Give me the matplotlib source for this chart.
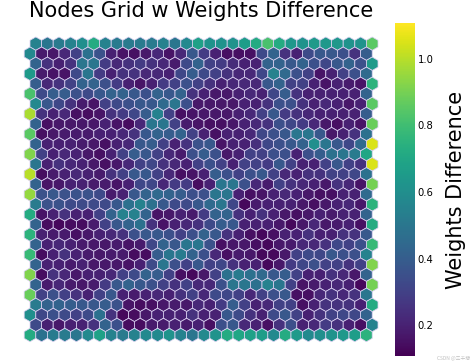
import numpy as np
import matplotlib
matplotlib.use("Agg")
import matplotlib.pyplot as plt
from matplotlib.patches import RegularPolygon
from matplotlib.colors import Normalize
from matplotlib.cm import ScalarMappable

title = "Nodes Grid w Weights Difference"
cbar_label = "Weights Difference"
cbar_ticks = [0.2, 0.4, 0.6, 0.8, 1.0]
vmin, vmax = 0.107, 1.108

# rows from the top of the grid to the bottom; 30 values each
r00 = [.55,.50,.52,.55,.60,.72,.55,.52,.52,.52,.52,.55,.50,.58,.68,.62,.62,.62,.66,.72,.82,.72,.64,.62,.65,.64,.64,.62,.62,.85]
r01 = [.58,.18,.17,.22,.30,.48,.36,.20,.16,.15,.17,.22,.16,.22,.38,.28,.20,.15,.15,.15,.33,.42,.25,.20,.33,.38,.38,.35,.25,.40]
r02 = [.42,.25,.20,.25,.50,.50,.28,.22,.25,.28,.25,.22,.18,.33,.42,.30,.28,.23,.20,.20,.42,.42,.38,.42,.35,.32,.38,.42,.35,.65]
r03 = [.65,.18,.16,.16,.33,.50,.28,.20,.25,.25,.22,.22,.20,.32,.40,.33,.30,.25,.22,.22,.32,.55,.45,.35,.30,.16,.20,.30,.35,.45]
r04 = [.40,.22,.25,.30,.42,.42,.35,.28,.20,.16,.20,.28,.30,.35,.30,.25,.20,.22,.22,.22,.38,.42,.30,.30,.20,.16,.20,.18,.16,.75]
r05 = [.82,.33,.40,.40,.35,.33,.38,.42,.42,.38,.35,.42,.38,.42,.25,.20,.17,.17,.20,.22,.20,.32,.40,.25,.20,.20,.20,.20,.20,.42]
r06 = [.58,.38,.32,.25,.18,.16,.30,.33,.35,.38,.38,.45,.50,.35,.17,.17,.17,.17,.20,.20,.25,.35,.35,.25,.20,.22,.20,.17,.20,.85]
r07 = [.98,.25,.20,.22,.15,.14,.16,.25,.28,.32,.40,.55,.30,.15,.16,.17,.17,.17,.20,.22,.30,.38,.28,.25,.22,.20,.20,.20,.20,.40]
r08 = [.42,.15,.17,.17,.17,.17,.20,.16,.14,.22,.50,.50,.30,.18,.16,.15,.15,.17,.20,.22,.25,.35,.32,.28,.22,.17,.15,.20,.16,.88]
r09 = [.85,.15,.17,.18,.18,.18,.20,.20,.22,.25,.38,.42,.40,.42,.30,.20,.15,.20,.20,.22,.32,.35,.38,.50,.50,.38,.17,.20,.25,.48]
r10 = [.42,.20,.20,.20,.18,.17,.15,.20,.22,.38,.40,.30,.20,.25,.36,.38,.16,.20,.20,.24,.32,.35,.38,.42,.60,.50,.38,.32,.45,1.05]
r11 = [.92,.30,.20,.22,.20,.17,.15,.20,.30,.40,.38,.30,.22,.18,.35,.40,.35,.17,.20,.30,.30,.35,.35,.20,.35,.40,.48,.50,.52,.70]
r12 = [.50,.20,.25,.22,.20,.17,.15,.17,.22,.30,.32,.25,.22,.20,.30,.35,.30,.20,.30,.30,.28,.38,.30,.20,.20,.30,.38,.30,.25,1.05]
r13 = [1.00,.14,.18,.20,.22,.20,.18,.25,.30,.38,.38,.30,.22,.15,.16,.20,.40,.35,.30,.35,.38,.30,.22,.20,.25,.25,.30,.30,.32,.48]
r14 = [.42,.16,.17,.20,.20,.18,.18,.16,.20,.32,.32,.22,.28,.28,.14,.20,.50,.50,.35,.22,.18,.30,.25,.22,.20,.17,.25,.22,.16,.90]
r15 = [.95,.36,.38,.36,.36,.36,.33,.18,.20,.38,.42,.45,.42,.40,.35,.35,.50,.50,.20,.15,.16,.20,.22,.20,.17,.15,.15,.20,.20,.45]
r16 = [.52,.36,.36,.33,.33,.33,.33,.38,.48,.55,.48,.38,.33,.33,.38,.45,.50,.32,.13,.18,.20,.20,.20,.17,.15,.17,.20,.22,.17,.75]
r17 = [.72,.16,.20,.25,.20,.20,.30,.42,.55,.55,.42,.16,.17,.20,.18,.28,.42,.42,.25,.20,.25,.20,.17,.15,.17,.20,.18,.20,.20,.42]
r18 = [.42,.14,.13,.14,.14,.18,.30,.38,.42,.48,.25,.16,.20,.22,.25,.33,.40,.38,.20,.20,.20,.17,.13,.17,.22,.17,.18,.20,.15,.72]
r19 = [.75,.20,.18,.18,.15,.17,.20,.22,.25,.35,.38,.38,.35,.30,.35,.42,.38,.25,.20,.15,.13,.15,.20,.20,.25,.20,.20,.25,.25,.38]
r20 = [.42,.20,.22,.20,.18,.17,.17,.18,.16,.18,.32,.42,.38,.50,.50,.36,.15,.17,.17,.15,.13,.17,.18,.22,.22,.25,.32,.30,.35,.78]
r21 = [.78,.14,.20,.25,.20,.18,.17,.18,.18,.14,.14,.40,.50,.52,.42,.35,.22,.15,.18,.17,.13,.13,.17,.30,.33,.32,.38,.35,.35,.55]
r22 = [.42,.20,.20,.18,.20,.17,.17,.17,.16,.20,.33,.50,.35,.30,.38,.30,.32,.25,.20,.20,.13,.17,.28,.32,.35,.30,.30,.25,.30,.92]
r23 = [.92,.14,.25,.22,.17,.20,.20,.22,.30,.33,.42,.40,.30,.15,.13,.17,.30,.48,.52,.48,.45,.38,.40,.30,.20,.20,.25,.22,.17,.42]
r24 = [.42,.18,.22,.18,.17,.18,.28,.38,.42,.38,.35,.30,.25,.30,.22,.22,.35,.50,.50,.48,.55,.50,.30,.16,.18,.20,.22,.20,.13,.90]
r25 = [.88,.30,.35,.30,.25,.20,.30,.38,.20,.18,.20,.22,.20,.25,.30,.22,.33,.32,.30,.22,.30,.35,.38,.15,.15,.22,.25,.22,.25,.50]
r26 = [.52,.42,.42,.40,.38,.38,.40,.36,.16,.14,.15,.17,.18,.17,.22,.20,.28,.40,.30,.20,.22,.30,.30,.15,.20,.25,.25,.25,.20,.72]
r27 = [.60,.32,.35,.33,.30,.33,.48,.25,.13,.14,.17,.20,.20,.20,.25,.20,.20,.38,.33,.25,.20,.33,.38,.30,.20,.25,.30,.32,.32,.42]
r28 = [.33,.20,.17,.20,.20,.25,.42,.35,.14,.14,.18,.18,.20,.18,.20,.15,.35,.38,.22,.20,.15,.25,.35,.20,.22,.28,.25,.20,.15,.55]
r29 = [.72,.48,.52,.52,.50,.58,.68,.55,.52,.55,.58,.58,.62,.55,.50,.58,.62,.72,.70,.68,.66,.58,.72,.65,.58,.60,.62,.64,.66,.75]
rows = [r00,r01,r02,r03,r04,r05,r06,r07,r08,r09,r10,r11,r12,r13,r14,r15,r16,r17,r18,r19,
        r20,r21,r22,r23,r24,r25,r26,r27,r28,r29]

W, H = 474, 363
fig = plt.figure(figsize=(W/100, H/100), dpi=100)
fig.patch.set_facecolor("white")

# pixel frame of the grid axes
px_l, px_r, px_t, px_b = 23, 380, 35, 344
ax = fig.add_axes([px_l/W, 1-px_b/H, (px_r-px_l)/W, (px_b-px_t)/H])
sx = 11.6
x0_px, y0_px = 30.0, 335.0
ax.set_xlim((px_l-x0_px)/sx, (px_r-x0_px)/sx)
ax.set_ylim((y0_px-px_b)/sx, (y0_px-px_t)/sx)
ax.axis("off")

norm = Normalize(vmin=vmin, vmax=vmax)
cmap = plt.get_cmap("viridis")
n = len(rows)
for ri, row in enumerate(rows):
    level = n - 1 - ri
    shift = 0.5 if level % 2 else 0.0
    for ci, v in enumerate(row):
        ax.add_patch(RegularPolygon((ci + shift, level*np.sqrt(3)/2), numVertices=6,
                                    radius=1/np.sqrt(3), orientation=0,
                                    facecolor=cmap(norm(v)), edgecolor="#d9cff0",
                                    linewidth=0.55, clip_on=False))

ax.set_title(title, fontsize=15.05, color="black", pad=13)

cax = fig.add_axes([395/W, 1-356/H, 20/W, 333/H])
cb = fig.colorbar(ScalarMappable(norm=norm, cmap=cmap), cax=cax, ticks=cbar_ticks)
cb.outline.set_visible(False)
cb.ax.tick_params(length=0, labelsize=7.2, pad=2)
cb.set_label(cbar_label, fontsize=15.0, labelpad=9)

fig.text(470/W, 1-358/H, "CSDN @三千悲", fontsize=3.5, color="#c0c0c0",
         ha="right", va="center", family=["Noto Sans CJK SC", "DejaVu Sans"])

fig.savefig("out.png", dpi=100)
